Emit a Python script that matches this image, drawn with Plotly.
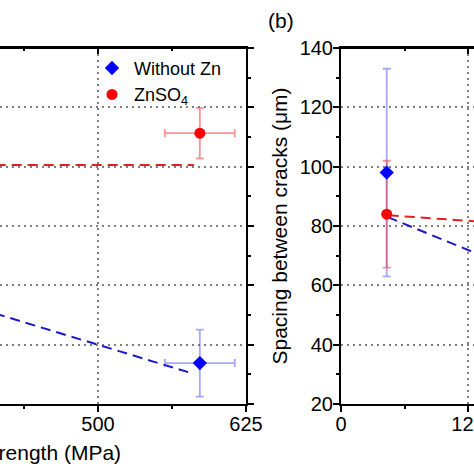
import plotly.graph_objects as go

# panel (a): strength vs spacing (only the right part is visible)
strength_nozn = [586]
strength_nozn_err = [29.5]
spacing_a_nozn = [33.8]
spacing_a_nozn_err = [11.3]

strength_zn = [586]
strength_zn_err = [29.5]
spacing_a_zn = [111.3]
spacing_a_zn_err = [8.5]

trend_a_x_nozn = [400, 579]
trend_a_y_nozn = [52.1, 30.4]
trend_a_x_zn = [400, 581]
trend_a_y_zn = [100.6, 100.6]

# panel (b)
b_x = [45]
b_nozn = [98]
b_nozn_err = [35]
b_zn = [84]
b_zn_err = [18]

trend_b_x_nozn = [46, 140]
trend_b_y_nozn = [83.0, 69.8]
trend_b_x_zn = [47, 140]
trend_b_y_zn = [83.6, 81.4]

FONT = "Liberation Sans"
BLUE = "#0000ff"
RED = "#ff0000"
BLUE_ERR = "rgba(60,60,255,0.45)"
RED_ERR = "rgba(255,40,40,0.5)"
GRID = "#808080"

fig = go.Figure()

# trend lines
for xs, ys, col, xa, ya in [
    (trend_a_x_zn, trend_a_y_zn, "#e02020", "x", "y"),
    (trend_a_x_nozn, trend_a_y_nozn, "#1a1acc", "x", "y"),
    (trend_b_x_zn, trend_b_y_zn, "#e02020", "x2", "y2"),
    (trend_b_x_nozn, trend_b_y_nozn, "#1a1acc", "x2", "y2"),
]:
    fig.add_trace(go.Scatter(x=xs, y=ys, mode="lines", xaxis=xa, yaxis=ya,
                             line=dict(color=col, width=2, dash="10px,6px"),
                             showlegend=False, hoverinfo="skip"))

# error bars first, markers on top
def err_trace(x, y, ey, col, xa, ya, ex=None):
    return go.Scatter(
        x=x, y=y, mode="markers", xaxis=xa, yaxis=ya,
        marker=dict(size=1, opacity=0),
        error_y=dict(type="data", array=ey, color=col, thickness=1.8, width=4),
        error_x=(dict(type="data", array=ex, color=col, thickness=1.8, width=4)
                 if ex is not None else dict(visible=False)),
        showlegend=False, hoverinfo="skip")

fig.add_trace(err_trace(strength_nozn, spacing_a_nozn, spacing_a_nozn_err, BLUE_ERR, "x", "y", strength_nozn_err))
fig.add_trace(err_trace(strength_zn, spacing_a_zn, spacing_a_zn_err, RED_ERR, "x", "y", strength_zn_err))
fig.add_trace(err_trace(b_x, b_nozn, b_nozn_err, BLUE_ERR, "x2", "y2"))
fig.add_trace(err_trace(b_x, b_zn, b_zn_err, RED_ERR, "x2", "y2"))

fig.add_trace(go.Scatter(x=strength_nozn, y=spacing_a_nozn, mode="markers", name="Without Zn",
                         marker=dict(symbol="diamond", size=11, color=BLUE), xaxis="x", yaxis="y"))
fig.add_trace(go.Scatter(x=strength_zn, y=spacing_a_zn, mode="markers", name="ZnSO<sub>4</sub>",
                         marker=dict(symbol="circle", size=11, color=RED), xaxis="x", yaxis="y"))
fig.add_trace(go.Scatter(x=b_x, y=b_nozn, mode="markers", showlegend=False,
                         marker=dict(symbol="diamond", size=11, color=BLUE), xaxis="x2", yaxis="y2"))
fig.add_trace(go.Scatter(x=b_x, y=b_zn, mode="markers", showlegend=False,
                         marker=dict(symbol="circle", size=11, color=RED), xaxis="x2", yaxis="y2"))

# dummy traces so the extra (mirror) axes get drawn
fig.add_trace(go.Scatter(x=[None], y=[None], xaxis="x", yaxis="y3", showlegend=False))
fig.add_trace(go.Scatter(x=[None], y=[None], xaxis="x3", yaxis="y", showlegend=False))
fig.add_trace(go.Scatter(x=[None], y=[None], xaxis="x4", yaxis="y2", showlegend=False))

W = 474
dom_a = [0, 246 / W]
dom_b = [341 / W, 1]
xr_a = [417.2, 625]
xr_b = [0, 130.9]
yr = [20, 140]

tickfont = dict(family=FONT, size=20, color="black")
common = dict(showline=True, linecolor="black", linewidth=2, zeroline=False, automargin=False,
              ticks="outside", ticklen=6, tickwidth=2, tickcolor="black",
              tickfont=tickfont, griddash="2px,4px", gridcolor=GRID, gridwidth=1.5)
minor_out = dict(ticks="outside", ticklen=3, tickwidth=2, tickcolor="black")
minor_in = dict(ticks="inside", ticklen=3, tickwidth=2, tickcolor="black")
top_ticks = dict(side="top", tick0=0, dtick=125, showticklabels=False, showgrid=False,
                 showline=False, zeroline=False, automargin=False,
                 ticks="inside", ticklen=6, tickwidth=2, tickcolor="black",
                 minor=dict(dtick=62.5, **minor_in))

# top frame edge of each panel
frame_top = [
    dict(type="line", xref="paper", yref="paper", x0=d[0], x1=d[1], y0=1, y1=1,
         line=dict(color="black", width=2), layer="above")
    for d in (dom_a, dom_b)
]

fig.update_layout(
    width=W, height=474,
    margin=dict(l=0, r=0, t=48, b=70),
    paper_bgcolor="white", plot_bgcolor="white",
    font=dict(family=FONT, color="black"),
    shapes=frame_top,
    xaxis=dict(domain=dom_a, range=xr_a, anchor="y", tick0=0, dtick=125, mirror=True,
               ticklabelstandoff=-5, ticklabeloverflow="allow",
               minor=dict(dtick=62.5, **minor_out), showgrid=True, **common),
    yaxis=dict(domain=[0, 1], range=yr, anchor="x", dtick=20, showticklabels=False,
               showgrid=True, **{**common, "showline": False, "ticks": ""}),
    yaxis3=dict(overlaying="y", side="right", range=yr, anchor="x", dtick=20,
                showticklabels=False, showgrid=False, minor=dict(dtick=10, **minor_out),
                **common),
    xaxis3=dict(overlaying="x", anchor="y", range=xr_a, **top_ticks),
    xaxis2=dict(domain=dom_b, range=xr_b, anchor="y2", tick0=0, dtick=125, mirror=True,
                ticklabelstandoff=-5, ticklabeloverflow="allow",
                minor=dict(dtick=62.5, **minor_out), showgrid=True, **common),
    yaxis2=dict(domain=[0, 1], range=yr, anchor="x2", dtick=20, showgrid=True,
                ticklabelstandoff=-4,
                minor=dict(dtick=10, **minor_out), **common),
    xaxis4=dict(overlaying="x2", anchor="y2", range=xr_b, **top_ticks),
    legend=dict(x=90 / W, y=0.995, xanchor="left", yanchor="top", itemwidth=34,
                bgcolor="rgba(0,0,0,0)", font=dict(family=FONT, size=18, color="black"),
                tracegroupgap=0),
    annotations=[
        dict(text="(b)", x=281 / W, y=1 - (20 - 48) / 356, xref="paper", yref="paper",
             xanchor="center", yanchor="middle", showarrow=False,
             font=dict(family=FONT, size=21, color="black")),
        dict(text="Spacing between cracks (μm)", x=279 / W, y=0.4986, xref="paper", yref="paper",
             xanchor="center", yanchor="middle", textangle=-90, showarrow=False,
             font=dict(family=FONT, size=21, color="black")),
        dict(text="Tensile strength (MPa)", x=123 / W, y=-0.1376, xref="paper", yref="paper",
             xanchor="right", yanchor="middle", showarrow=False,
             font=dict(family=FONT, size=21, color="black")),
    ],
)

# page body has a default 8px margin; drop it so the figure sits at the window corner
fig.write_html("out.html", config={"displayModeBar": False},
               post_script="document.body.style.margin='0px';")
